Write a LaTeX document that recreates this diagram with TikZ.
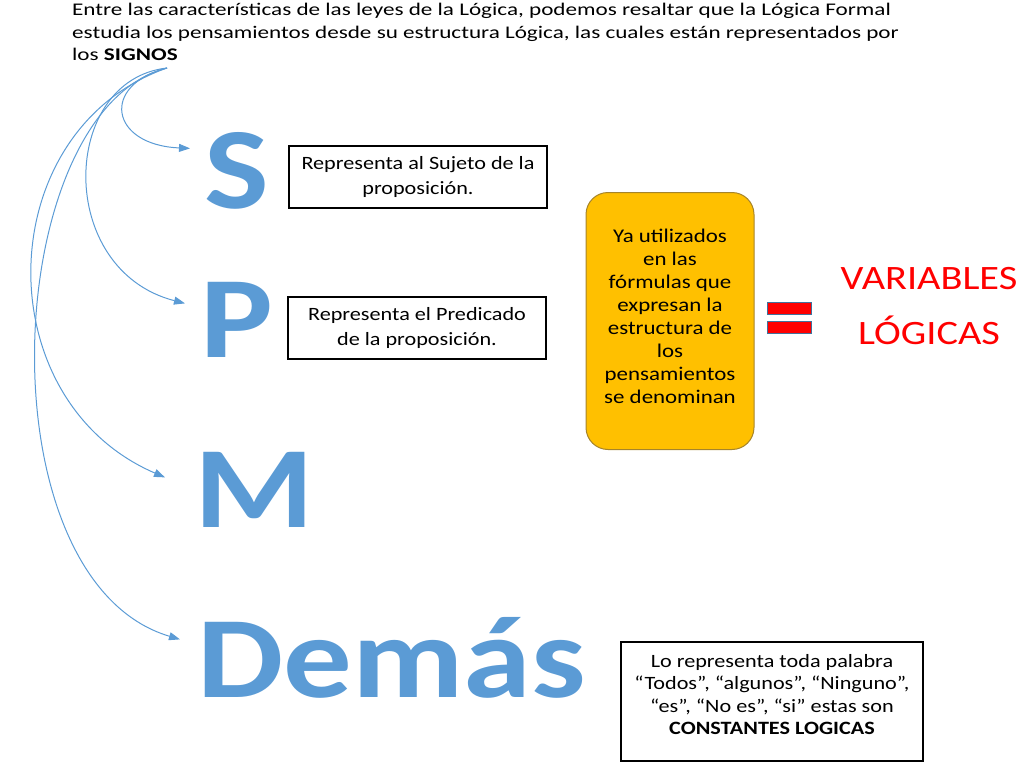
\documentclass[tikz,border=0pt]{standalone}
\usepackage{fontspec}
\setmainfont{Carlito}[FakeStretch=1.18]
\newfontfamily\introfont{Carlito}[FakeStretch=1.3]
\usepackage{xcolor}
\usetikzlibrary{positioning,arrows.meta}
\definecolor{signblue}{HTML}{5B9BD5}
\definecolor{boxgold}{HTML}{FFC000}
\definecolor{goldedge}{HTML}{A6842A}
\definecolor{eqedge}{HTML}{41719C}

\begin{document}
\begin{tikzpicture}[x=1pt,y=-1pt,
    sign/.style={text=signblue, font=\fontsize{116}{116}\selectfont\bfseries, inner sep=0pt, anchor=base west},
    note/.style={draw, line width=1.1pt, align=center, font=\fontsize{18.8}{24.5}\selectfont},
    link/.style={signblue, line width=1pt, -{Triangle[length=11pt,width=8pt]}}]
    \useasboundingbox (0,0) rectangle (1021,771);

    % Texto de arriba
    \node [anchor=north west, inner sep=0pt, align=left, font=\introfont\fontsize{17.8}{22.5}\selectfont] (intro) at (72,3)
        {Entre las características de las leyes de la Lógica, podemos resaltar que la Lógica Formal\\
         estudia los pensamientos desde su estructura Lógica, las cuales están representados por\\
         los \textbf{SIGNOS}};
    \coordinate (signos) at (167,68);

    % Signos
    \node [sign] (S) at (204,208) {S};
    \node [sign] (P) at (200,357) {P};
    \node [sign] (M) at (194,527) {M};
    \node [sign] (D) at (197,697) {Demás};

    % Cajas
    \node [note, minimum width=258pt, minimum height=62pt] (sujeto) at (418,177)
        {Representa al Sujeto de la\\ proposición.};
    \node [note, minimum width=258pt, minimum height=62pt] (predicado) at (417,328)
        {Representa el Predicado\\ de la proposición.};
    \node [draw, line width=1.1pt, minimum width=302pt, minimum height=119pt] (constantes) at (772,701.5) {};
    \node [align=center, font=\fontsize{18.8}{22.5}\selectfont] (constantestext) at ([yshift=7pt]constantes.center)
        {Lo representa toda palabra\\ “Todos”, “algunos”, “Ninguno”,\\ “es”, “No es”, “si” estas son\\ \textbf{CONSTANTES LOGICAS}};

    \node [draw=goldedge, fill=boxgold, line width=1pt, rounded corners=22pt, minimum width=168pt, minimum height=257pt] (formulas) at (670,321) {};
    \node [align=center, font=\fontsize{19.4}{23}\selectfont] (formulastext) at ([yshift=5pt]formulas.center)
        {Ya utilizados\\ en las\\ fórmulas que\\ expresan la\\ estructura de\\ los\\ pensamientos\\ se denominan};

    % Signo igual
    \node [draw=eqedge, fill=red, minimum width=44pt, minimum height=12pt, inner sep=0pt] (eqtop) at (789,308) {};
    \node [draw=eqedge, fill=red, minimum width=44pt, minimum height=12pt, inner sep=0pt] (eqbot) at (789,327) {};

    \node [text=red, align=center, font=\fontsize{34.2}{55}\selectfont] (variables) at (929,306)
        {VARIABLES\\ LÓGICAS};

    % Flechas
    \draw [link] (signos) .. controls (100,85) and (110,145) .. ([xshift=-14pt,yshift=22pt]S.west);
    \draw [link] (signos) .. controls (60,80) and (55,270) .. ([xshift=-15pt,yshift=16pt]P.west);
    \draw [link] (signos) .. controls (-10,130) and (-15,400) .. ([xshift=-29pt,yshift=12pt]M.west);
    \draw [link] (signos) .. controls (0,110) and (-20,580) .. ([xshift=-17pt,yshift=18pt]D.west);
\end{tikzpicture}
\end{document}
